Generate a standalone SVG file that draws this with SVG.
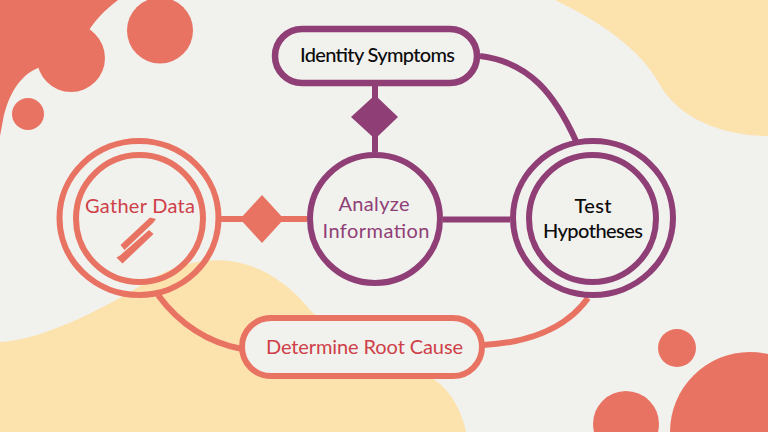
<svg xmlns="http://www.w3.org/2000/svg" width="768" height="432" viewBox="0 0 768 432">
<style>
.coral{fill:#e97362}
.cream{fill:#fce3ae}
.ring-c{fill:none;stroke:#e97362;stroke-width:6}
.ring-p{fill:none;stroke:#8f3f76;stroke-width:6}
.box-c{fill:#f1f1ee;stroke:#e97362;stroke-width:6}
.box-p{fill:#f1f1ee;stroke:#8f3f76;stroke-width:6.5}
text{font-family:"Lato","Noto Sans",sans-serif;font-size:20px;text-anchor:middle}
.red{fill:#cf3f48}
.pur{fill:#8f3f76}
.blk{fill:#0c0c0c;font-weight:500}
</style>
<rect width="768" height="432" fill="#f1f1ee"/>
<g id="background">
<path class="cream" d="M555 0C600 22 640 48 660 85C680 120 725 136 768 136V0Z"/>
<path class="cream" d="M0 342C45 340 110 305 150 280C200 250 262 250 310 310C345 345 410 365 435 380C452 392 462 412 466 432H0Z"/>
<path class="coral" d="M0 0H118C105 10 95 20 88 32L60 60L38 68C20 75 8 95 3 120L0 136Z"/>
<circle class="coral" cx="71" cy="58" r="34"/>
<circle class="coral" cx="160" cy="30.500" r="33"/>
<circle class="coral" cx="28" cy="114" r="16"/>
<circle class="coral" cx="677" cy="348" r="19"/>
<circle class="coral" cx="626" cy="424" r="33"/>
<circle class="coral" cx="750" cy="432" r="80"/>
</g>
<g id="connectors">
<path class="ring-c" d="M221 219H307"/>
<path class="ring-p" d="M443 219.500H510"/>
<path class="ring-p" d="M375 86V152"/>
<path class="ring-p" d="M480 56C530 62 555 95 576 141"/>
<path class="ring-c" d="M483 345C525 343 565 330 588 298"/>
<path class="ring-c" d="M158 295C178 322 205 342 242 349"/>
</g>
<g id="diamond-purple"><path class="pur" d="M351 117L375 95L398 117L375 139Z"/></g>
<g id="diamond-coral"><path class="coral" d="M240 219L262 195L284 219L262 243Z"/></g>
<g id="identify-symptoms">
<rect class="box-p" x="275" y="29" width="202" height="54" rx="27"/>
<text class="blk" x="377.500" y="62" textLength="155" lengthAdjust="spacing">Identity Symptoms</text>
</g>
<g id="gather-data">
<ellipse class="ring-c" cx="139" cy="218" rx="79.500" ry="77"/>
<circle class="ring-c" cx="139.500" cy="218.500" r="63.500"/>
<text class="red" x="140" y="213" textLength="110" lengthAdjust="spacing">Gather Data</text>
<path class="coral" d="M120.500 245L150 217.500L156 219L153 223L124.500 250ZM116.500 257.500L120 255.500L149 230L153.500 234L122.500 263.500Z"/>
</g>
<g id="analyze-information">
<ellipse class="ring-p" cx="375" cy="219" rx="65" ry="64"/>
<text class="pur" x="374" y="211" textLength="71" lengthAdjust="spacing">Analyze</text>
<text class="pur" x="376" y="238" textLength="107" lengthAdjust="spacing">Information</text>
</g>
<g id="test-hypotheses">
<ellipse class="ring-p" cx="593" cy="218" rx="80" ry="77"/>
<circle class="ring-p" cx="592.500" cy="218.500" r="63.500"/>
<text class="blk" x="593" y="213" textLength="37" lengthAdjust="spacing">Test</text>
<text class="blk" x="593" y="238" textLength="100" lengthAdjust="spacing">Hypotheses</text>
</g>
<g id="determine-root-cause">
<rect class="box-c" x="242" y="318" width="240" height="58" rx="29"/>
<text class="red" x="364.500" y="354" textLength="197" lengthAdjust="spacing">Determine Root Cause</text>
</g>
</svg>
